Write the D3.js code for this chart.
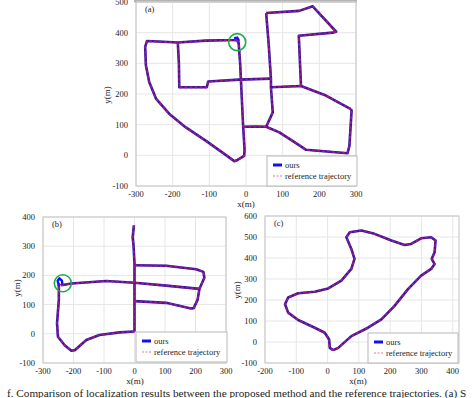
<!DOCTYPE html>
<html>
<head>
<meta charset="utf-8">
<script src="https://cdn.jsdelivr.net/npm/d3@7"></script>
<style>
  body { margin: 0; background: #fff; }
  svg { display: block; }
  text { font-family: "Liberation Serif", "Times New Roman", serif; fill: #222; }
</style>
</head>
<body>
<svg id="chart" width="474" height="398"></svg>
<script>
// ---- data (metres) ----
// panel (a): trajectory drawn as several road segments
var trajA = [
  [[-25,378],[-30,376],[-110,374],[-186,368],[-240,371],[-270,373],[-275,354],[-273,294],[-264,239],[-245,184],[-209,135],[-164,91],[-109,47],[-64,9],[-32,-19],[-23,-15],[-5,-2],[-4,20],[-8,100],[-12,200],[-16,300],[-20,365],[-25,378]],
  [[-186,368],[-183,300],[-182,222],[-107,222],[-103,241],[-18,247],[68,250]],
  [[55,464],[62,360],[68,250],[68,222],[73,140],[55,93]],
  [[-7,93],[27,94],[55,93],[91,75],[127,47],[164,18],[236,11],[277,7],[282,31],[288,146],[286,151]],
  [[286,151],[218,195],[150,226],[68,222]],
  [[150,226],[144,390],[236,400],[246,403],[182,486],[145,471],[55,464]]
];
var hookA = [[-28,372],[-30,382],[-24,384],[-20,376],[-22,366]];
var circleA = [-24, 369];

// panel (b)
var trajB = [
  [[-2,371],[-6,330],[-3,300],[0,240],[0,175],[0,112],[0,8]],
  [[0,8],[-49,5],[-115,-4],[-158,-21],[-196,-56],[-207,-58],[-229,-39],[-251,-10],[-254,36],[-248,117],[-248,164],[-245,172]],
  [[-240,166],[-207,172],[-93,181],[0,175],[104,165],[213,154]],
  [[0,235],[104,233],[202,221],[226,212],[229,192],[213,154],[207,117],[194,88],[185,87],[104,106],[0,112]]
];
var hookB = [[-248,164],[-252,182],[-246,190],[-238,182],[-236,166]];
var circleB = [-235, 173];

// panel (c): one closed loop
var trajC = [
  [[18,-39],[7,-28],[5,12],[-9,44],[-41,68],[-94,105],[-126,140],[-136,180],[-126,212],[-94,232],[-41,239],[2,255],[44,292],[76,348],[86,396],[76,443],[60,499],[71,523],[108,531],[150,515],[204,483],[246,462],[267,467],[299,494],[331,499],[345,483],[342,427],[333,396],[342,371],[331,348],[299,316],[257,252],[214,172],[172,108],[129,68],[76,28],[34,-28],[18,-39]]
];

var ticksA_x = [-300,-200,-100,0,100,200,300], ticksA_y = [-100,0,100,200,300,400,500];
var ticksB_x = [-300,-200,-100,0,100,200,300], ticksB_y = [-100,0,100,200,300,400];
var ticksC_x = [-200,-100,0,100,200,300,400], ticksC_y = [-100,0,100,200,300,400,500,600];

var seriesNames = ["ours", "reference trajectory"];

// ---- layout ----
var panels = [
  { tag: "(a)", traj: trajA, hook: hookA, circle: circleA, xd: [-300,300], xr: [136,356], yd: [-100,500], yr: [186,2],
    xt: ticksA_x, yt: ticksA_y, xlab: [246,207], ylab: [107,95], leg: [267,156,90,30] },
  { tag: "(b)", traj: trajB, hook: hookB, circle: circleB, xd: [-300,300], xr: [43,226], yd: [-100,400], yr: [363,217],
    xt: ticksB_x, yt: ticksB_y, xlab: [135,384], ylab: [17,288], leg: [136,332,91,30] },
  { tag: "(c)", traj: trajC, hook: null, circle: null, xd: [-200,420], xr: [265,459], yd: [-100,600], yr: [363,216],
    xt: ticksC_x, yt: ticksC_y, xlab: [358,384], ylab: [237,290], leg: [368,333,90,30] }
];

var svg = d3.select("#chart");

// grey strip left at the top edge of panel (a)
svg.append("rect").attr("x", 134).attr("y", 0).attr("width", 223).attr("height", 2.5).attr("fill", "#b4b4b4");

panels.forEach(function(p){
  var x = d3.scaleLinear().domain(p.xd).range(p.xr);
  var y = d3.scaleLinear().domain(p.yd).range(p.yr);
  var g = svg.append("g");

  // grid
  g.selectAll(".vg").data(p.xt).enter().append("line")
    .attr("x1", function(d){ return x(d); }).attr("x2", function(d){ return x(d); })
    .attr("y1", p.yr[0]).attr("y2", p.yr[1])
    .attr("stroke", "#e6e6e6").attr("stroke-width", 1);
  g.selectAll(".hg").data(p.yt).enter().append("line")
    .attr("y1", function(d){ return y(d); }).attr("y2", function(d){ return y(d); })
    .attr("x1", p.xr[0]).attr("x2", p.xr[1])
    .attr("stroke", "#e6e6e6").attr("stroke-width", 1);

  // frame
  g.append("rect").attr("x", p.xr[0]).attr("y", p.yr[1])
    .attr("width", p.xr[1]-p.xr[0]).attr("height", p.yr[0]-p.yr[1])
    .attr("fill", "none").attr("stroke", "#c4c4c4").attr("stroke-width", 1);

  // tick labels
  g.selectAll(".xt").data(p.xt).enter().append("text")
    .attr("x", function(d){ return x(d); }).attr("y", p.yr[0] + 11)
    .attr("text-anchor", "middle").attr("font-size", 8.5)
    .text(function(d){ return d; });
  g.selectAll(".yt").data(p.yt).enter().append("text")
    .attr("x", p.xr[0] - 8).attr("y", function(d){ return y(d) + 3; })
    .attr("text-anchor", "end").attr("font-size", 8.5)
    .text(function(d){ return d; });

  g.append("text").attr("x", p.xlab[0]).attr("y", p.xlab[1])
    .attr("text-anchor", "middle").attr("font-size", 9).text("x(m)");
  g.append("text").attr("transform", "translate(" + p.ylab[0] + "," + p.ylab[1] + ") rotate(-90)")
    .attr("text-anchor", "middle").attr("dy", "0.35em").attr("font-size", 9).text("y(m)");
  g.append("text").attr("x", p.xr[0] + 9).attr("y", p.yr[1] + 10)
    .attr("font-size", 8.5).text(p.tag);

  var line = d3.line().x(function(d){ return x(d[0]); }).y(function(d){ return y(d[1]); });

  // ours (blue, solid)
  g.selectAll(".ours").data(p.traj).enter().append("path")
    .attr("d", line).attr("fill", "none")
    .attr("stroke", "#3418a8").attr("stroke-width", 2.6).attr("stroke-linejoin", "round");
  if (p.hook) {
    g.append("path").attr("d", line(p.hook)).attr("fill", "none")
      .attr("stroke", "#1010ff").attr("stroke-width", 2.4).attr("stroke-linejoin", "round");
  }
  // reference (dashed, magenta)
  g.selectAll(".ref").data(p.traj).enter().append("path")
    .attr("d", line).attr("fill", "none")
    .attr("stroke", "#a01a78").attr("stroke-width", 1.8)
    .attr("stroke-dasharray", "3,2").attr("stroke-linejoin", "round");

  if (p.circle) {
    g.append("circle").attr("cx", x(p.circle[0])).attr("cy", y(p.circle[1])).attr("r", 8.5)
      .attr("fill", "none").attr("stroke", "#1fae4a").attr("stroke-width", 1.6);
  }

  // legend
  var L = p.leg;
  var lg = g.append("g");
  lg.append("rect").attr("x", L[0]).attr("y", L[1]).attr("width", L[2]).attr("height", L[3])
    .attr("fill", "#fff").attr("stroke", "#b8b8b8").attr("stroke-width", 1);
  lg.append("line").attr("x1", L[0]+6).attr("x2", L[0]+15).attr("y1", L[1]+9).attr("y2", L[1]+9)
    .attr("stroke", "#1010ff").attr("stroke-width", 3);
  lg.append("line").attr("x1", L[0]+6).attr("x2", L[0]+15).attr("y1", L[1]+20).attr("y2", L[1]+20)
    .attr("stroke", "#e07a9a").attr("stroke-width", 1.2).attr("stroke-dasharray", "2,1.5");
  lg.selectAll("text").data(seriesNames).enter().append("text")
    .attr("x", L[0]+18).attr("y", function(d, i){ return L[1] + 12 + i*11; })
    .attr("font-size", 8.5).text(function(d){ return d; });
});

// figure caption, cut off by the image edge
svg.append("text").attr("x", 7).attr("y", 397).attr("font-size", 11.2)
  .text("f. Comparison of localization results between the proposed method and the reference trajectories. (a) S");
</script>
</body>
</html>
